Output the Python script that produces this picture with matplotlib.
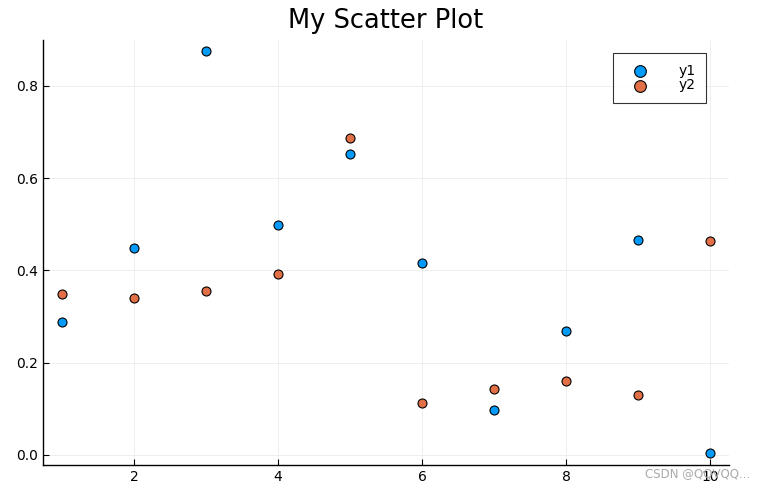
import numpy as np
import matplotlib.pyplot as plt

x = [1, 2, 3, 4, 5, 6, 7, 8, 9, 10]
y1 = [0.288, 0.449, 0.876, 0.499, 0.653, 0.416, 0.098, 0.269, 0.466, 0.004]
y2 = [0.349, 0.340, 0.356, 0.392, 0.687, 0.113, 0.143, 0.160, 0.130, 0.464]

fig = plt.figure(figsize=(7.66, 4.90), dpi=100)
ax = fig.add_axes([43 / 766, 25 / 490, 686 / 766, 425 / 490])

ax.scatter(x, y1, s=42, color='#009AFA', edgecolors='black', linewidths=0.8, label='y1', zorder=3)
ax.scatter(x, y2, s=42, color='#E36F47', edgecolors='black', linewidths=0.8, label='y2', zorder=3)

ax.set_xlim(0.736, 10.26)
ax.set_ylim(-0.0217, 0.8997)
ax.set_xticks([2, 4, 6, 8, 10])
ax.set_yticks([0.0, 0.2, 0.4, 0.6, 0.8])
ax.set_yticklabels(['0.0', '0.2', '0.4', '0.6', '0.8'])
ax.grid(True, color='#eeeeee', linewidth=0.7)
ax.set_axisbelow(True)
for side in ['top', 'right']:
    ax.spines[side].set_visible(False)
ax.spines['left'].set_linewidth(1.0)
ax.spines['bottom'].set_linewidth(1.0)
ax.tick_params(direction='in', length=4, width=0.8, labelsize=10, colors='black')

ax.set_title('My Scatter Plot', fontsize=18.5, pad=9)

leg = ax.legend(loc='upper right', bbox_to_anchor=(0.967, 0.969), borderaxespad=0,
                fontsize=10, frameon=True, fancybox=False, edgecolor='black',
                handletextpad=1.6, borderpad=0.75, labelspacing=0.05, markerscale=1.3,
                handlelength=2.4)
leg.get_frame().set_linewidth(0.8)

fig.text(0.842, 0.027, 'CSDN @QQVQQ...', color='#aaaaaa', fontsize=8.5)

fig.savefig('out.png', dpi=100)
